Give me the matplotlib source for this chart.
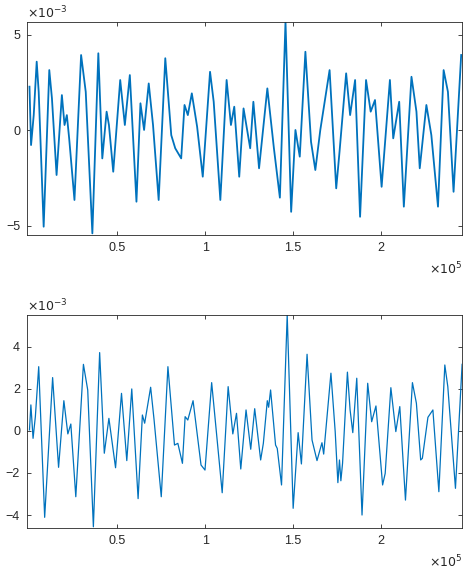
import matplotlib
matplotlib.use("Agg")
import matplotlib.pyplot as plt
import numpy as np

# top signal extrema (x in samples, y in 1e-3)
top_x = [0,900,2420,4110,5250,8080,11280,12790,15430,18450,19960,21280,22600,25620,29400,32040,35810,39210,41470,43930,45250,47700,51670,54310,57150,60920,63190,65270,67910,70360,73570,77340,80740,83010,86400,88290,90180,92450,95470,98680,102830,104910,108690,112270,114730,116620,119450,121910,125690,127500,130740,135460,139200,142600,145800,149020,151460,153920,157130,160340,162790,165620,170910,174680,176570,180340,182600,185440,188270,191670,194310,196770,200540,205260,207150,210550,213190,217540,220370,222250,226030,228860,232640,235850,238300,241510,245850]
top_y = [2.29,-0.77,0.8,3.6,2.02,-5.05,3.16,1.68,-2.34,1.85,0.28,0.8,-0.42,-3.65,3.95,2.02,-5.4,4.04,-1.47,0.98,0.28,-2.17,2.64,0.28,2.9,-3.74,1.42,0.02,2.46,0.28,-3.65,3.78,-0.25,-0.94,-1.47,1.33,0.8,1.94,0.19,-2.43,3.07,1.5,-3.65,2.64,0.28,1.24,-2.43,1.15,-0.94,1.5,-1.99,2.2,-0.94,-3.53,5.7,-4.27,0.02,-1.38,4.12,-0.6,-2.08,0.02,3.16,-3.04,-1.12,2.99,0.8,2.64,-4.53,2.64,0.98,1.59,-2.96,2.64,-0.42,1.5,-4.0,2.81,0.98,-1.99,1.33,-0.25,-4.0,3.16,2.02,-3.22,3.95]

# bottom (filtered) signal extrema
bot_x = [0,800,2040,3350,5260,8650,13180,16570,19580,21850,23550,26380,30720,33170,36390,39960,42610,45230,49020,52410,55420,58250,61860,64300,65600,69000,70920,75050,78840,82580,84500,87110,88640,90160,93160,97690,99950,103750,109750,113140,115800,117900,120330,123330,126000,128260,131650,133180,135440,136200,137310,140140,141100,143540,146770,150160,153000,154860,158080,160910,163740,166570,167540,171670,174100,175630,176540,177330,178290,181060,182590,184120,186380,189380,192610,194870,197310,201100,202570,205800,208630,210890,214120,218080,220340,222780,223740,226910,229740,233140,236530,238230,242590,246380]
bot_y = [0.05,1.24,-0.35,0.68,3.06,-4.11,2.54,-1.73,1.44,-0.14,0.33,-3.13,3.17,1.95,-4.56,3.73,-1.06,0.6,-1.75,1.79,-1.41,2.0,-3.22,0.76,0.37,2.08,0.56,-3.13,3.06,-0.67,-0.59,-1.54,0.68,0.52,1.44,-1.62,-1.86,2.3,-2.94,2.11,-0.14,0.84,-1.81,1.0,-0.87,1.06,-1.38,-0.59,1.44,1.13,1.95,-0.67,-0.83,-2.57,5.52,-3.68,-0.08,-1.57,3.65,-0.43,-1.41,-0.56,-1.1,2.75,-0.03,-2.46,-1.38,-2.37,-1.54,2.8,1.0,-0.08,2.51,-4.0,2.27,0.44,1.19,-2.57,-2.02,2.06,-0.03,1.16,-3.29,2.3,1.32,-1.38,-1.30,0.65,1.0,-2.89,3.14,2.11,-2.73,3.17]

xticks = [0.5, 1, 1.5, 2]
xtick_labels = ["0.5", "1", "1.5", "2"]
top_yticks = [-5, 0, 5]
bot_yticks = [-4, -2, 0, 2, 4]

color = "#0072BD"
grey = "#262626"
plt.rcParams['font.family'] = ['Arial', 'Liberation Sans', 'DejaVu Sans']
plt.rcParams['font.size'] = 9

fig = plt.figure(figsize=(4.74, 5.79), dpi=100)
ax1 = fig.add_axes([0.057, 0.594, 0.918, 0.368])
ax2 = fig.add_axes([0.057, 0.088, 0.918, 0.368])

ax1.plot(np.array(top_x) / 1e5, top_y, color=color, lw=1.3)
ax2.plot(np.array(bot_x) / 1e5, bot_y, color=color, lw=0.9)

ax1.set_ylim(-5.49, 5.68)
ax1.set_yticks(top_yticks)
ax2.set_ylim(-4.62, 5.52)
ax2.set_yticks(bot_yticks)

for ax in (ax1, ax2):
    ax.set_xlim(-0.014, 2.464)
    ax.set_xticks(xticks)
    ax.set_xticklabels(xtick_labels)
    ax.tick_params(direction='in', length=3, width=0.6, colors=grey, labelsize=9, pad=5)
    ax.tick_params(top=True, right=True, labeltop=False, labelright=False)
    for s in ax.spines.values():
        s.set_color(grey)
        s.set_linewidth(0.6)
    ax.text(0.0, 1.003, r"$\times10^{-3}$", transform=ax.transAxes, ha='left', va='bottom', fontsize=9, color=grey)
    ax.text(1.0, -0.12, r"$\times10^{5}$", transform=ax.transAxes, ha='right', va='top', fontsize=9, color=grey)

fig.savefig("out.png", dpi=100)
